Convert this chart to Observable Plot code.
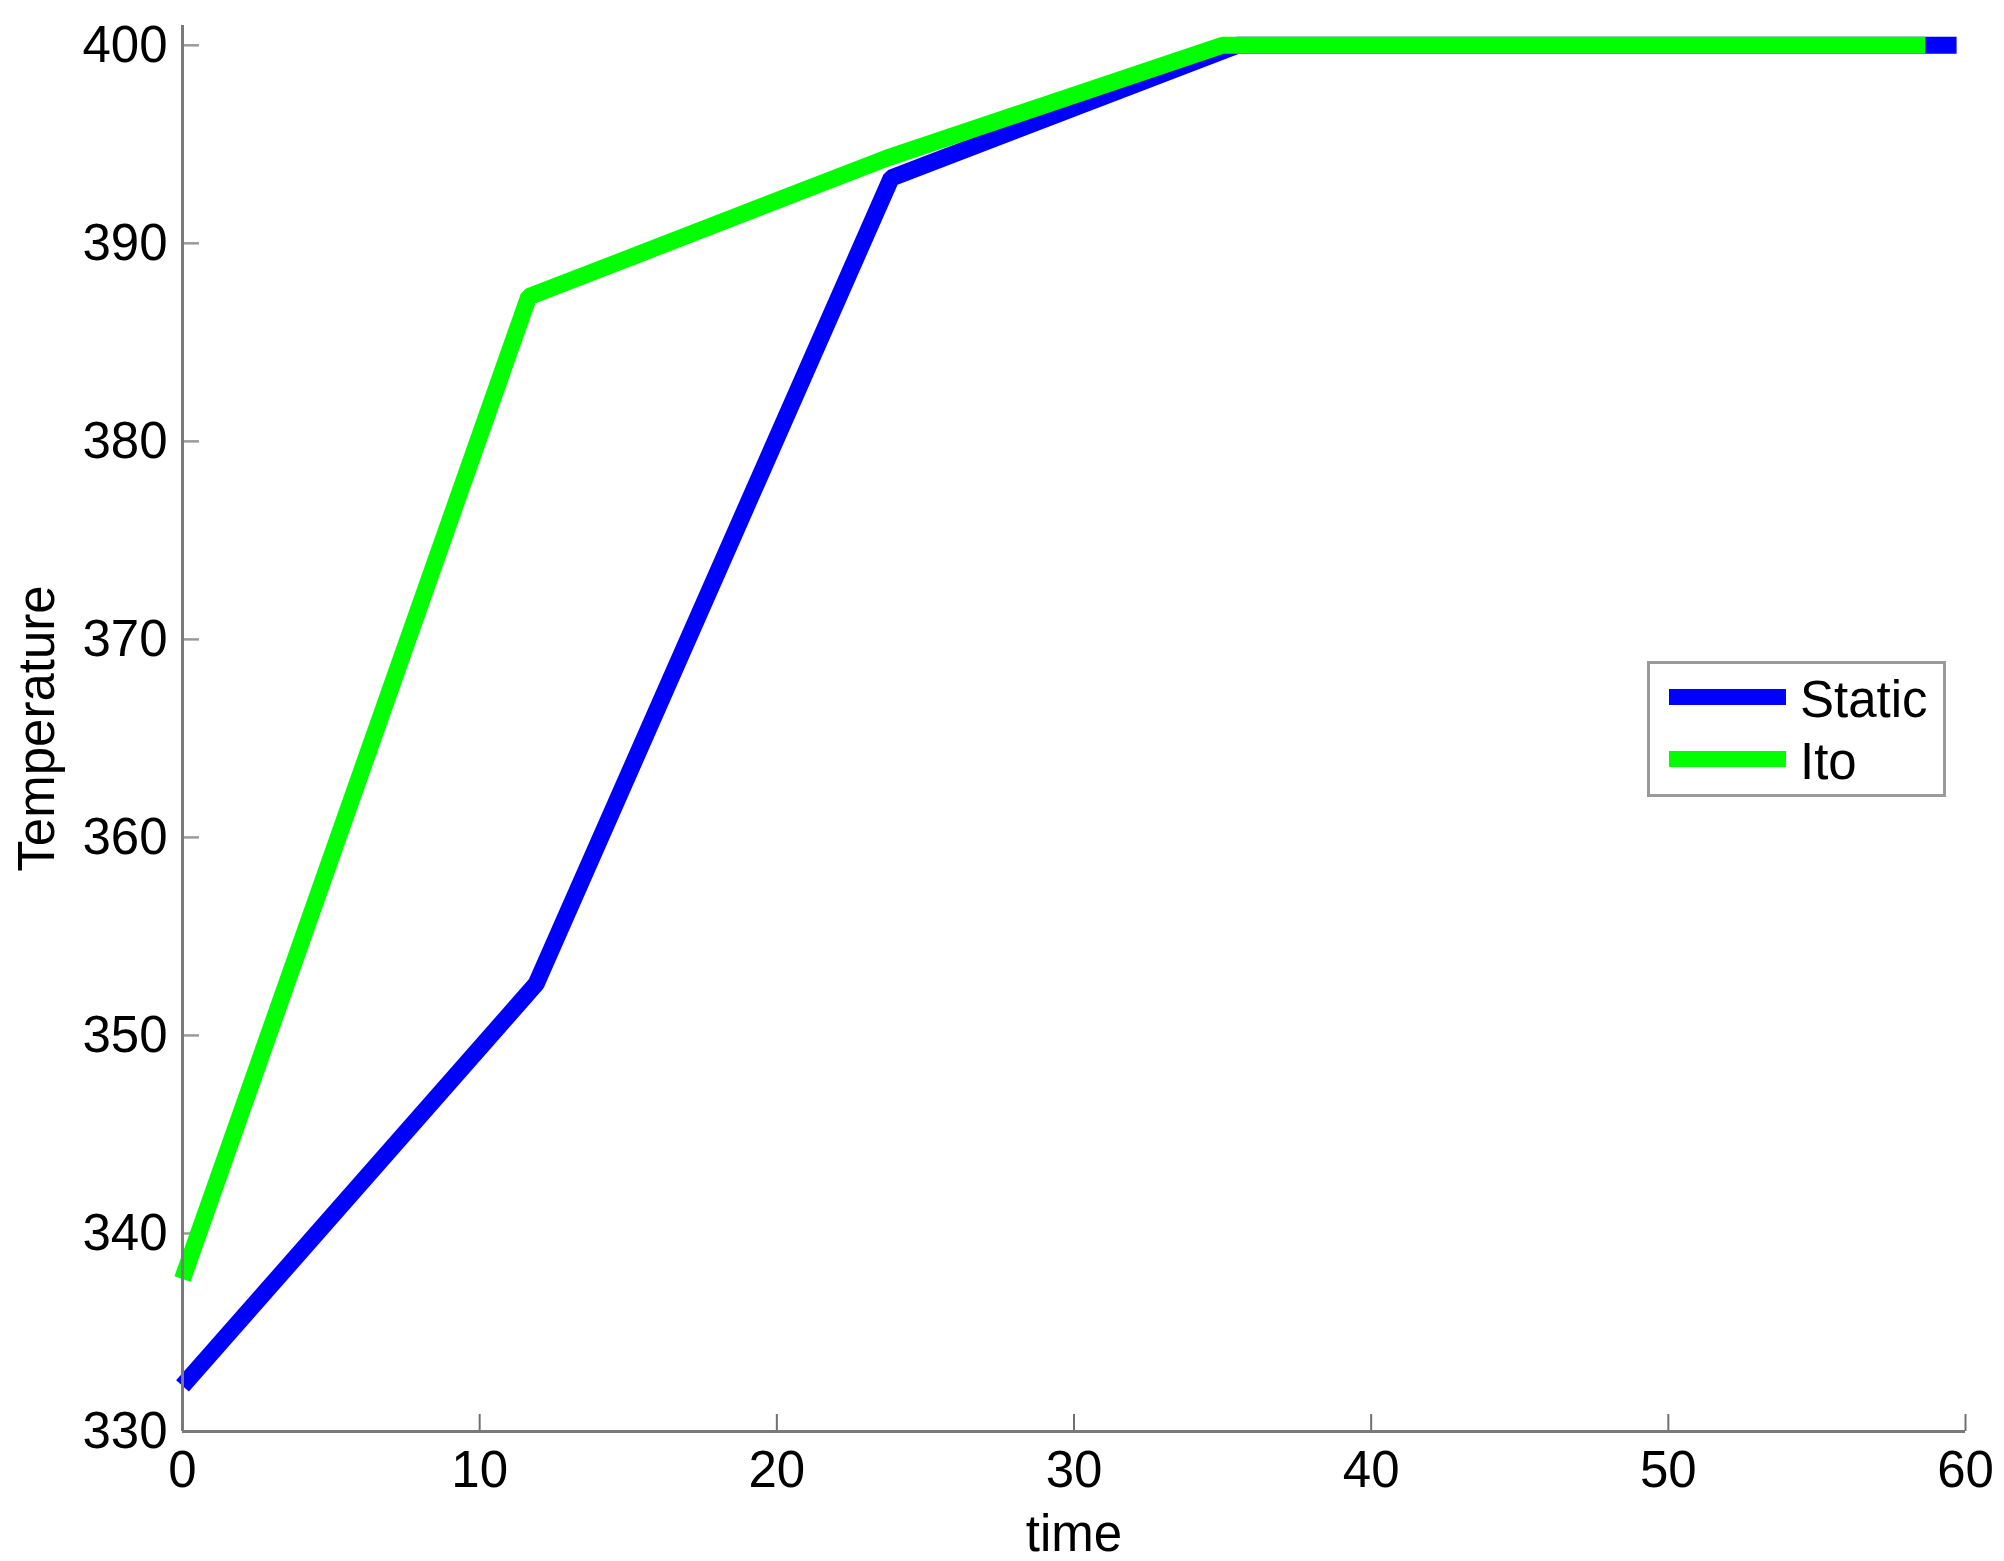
<!DOCTYPE html>
<html><head><meta charset="utf-8">
<script src="https://cdn.jsdelivr.net/npm/d3@7"></script>
<script src="https://cdn.jsdelivr.net/npm/@observablehq/plot@0.6"></script>
<style>
html,body{margin:0;padding:0;background:#fff;overflow:hidden}
#wrap{position:relative;width:2004px;height:1561px}
#legend{position:absolute;left:1647px;top:661px}
</style></head><body><div id="wrap"></div>
<script>
// Data
const staticTime = [0, 11.9, 23.85, 35.5, 59.7];
const staticTemp = [332.3, 352.6, 393.3, 400, 400];
const itoTime = [0, 11.65, 23.7, 35.0, 58.65];
const itoTemp = [337.7, 387.3, 394.3, 400, 400];
const seriesNames = ["Static", "Ito"];
const seriesColors = ["#0000ff", "#00ff00"];
const xTicks = [0, 10, 20, 30, 40, 50, 60];
const yTicks = [330, 340, 350, 360, 370, 380, 390, 400];

const data = [
  ...staticTime.map((t, i) => ({series: "Static", time: t, temp: staticTemp[i]})),
  ...itoTime.map((t, i) => ({series: "Ito", time: t, temp: itoTemp[i]}))
];

const FONT = "'Liberation Sans', Arial, sans-serif";

const chart = Plot.plot({
  width: 2004,
  height: 1561,
  marginLeft: 182,
  marginRight: 39,
  marginTop: 25,
  marginBottom: 130,
  style: {fontFamily: FONT, fontSize: "51px", color: "#000", background: "#fff", overflow: "visible"},
  x: {domain: [0, 60]},
  y: {domain: [330, 401]},
  color: {domain: seriesNames, range: seriesColors},
  marks: [
    Plot.axisX({ticks: xTicks, tickFormat: d => String(d), tickSize: -17, tickPadding: 36, stroke: "#707070", strokeWidth: 2, fill: "#000",
      label: "time", labelAnchor: "center", labelArrow: "none", labelOffset: 119}),
    Plot.axisY({ticks: yTicks, tickFormat: d => String(d), tickSize: -17, tickPadding: 32, stroke: "#9a9a9a", strokeWidth: 2.5, fill: "#000",
      label: "Temperature", labelAnchor: "center", labelArrow: "none", labelOffset: 165}),
    Plot.line(data, {x: "time", y: "temp", z: "series", stroke: "series", strokeWidth: 17, strokeLinecap: "butt", strokeLinejoin: "miter"}),
    Plot.ruleX([0], {stroke: "#7a7a7a", strokeWidth: 3}),
    Plot.ruleY([330], {stroke: "#7a7a7a", strokeWidth: 3})
  ]
});
document.getElementById("wrap").appendChild(chart);

// Legend (inside plot area, right side)
const lg = d3.select("#wrap").append("svg").attr("id", "legend")
  .attr("width", 300).attr("height", 137);
lg.append("rect").attr("x", 1.5).attr("y", 1.5).attr("width", 296).attr("height", 133)
  .attr("fill", "#fff").attr("stroke", "#9a9a9a").attr("stroke-width", 3);
seriesNames.forEach((name, i) => {
  const cy = 36 + i * 62;
  lg.append("line").attr("x1", 22).attr("x2", 139).attr("y1", cy).attr("y2", cy)
    .attr("stroke", seriesColors[i]).attr("stroke-width", 16);
  lg.append("text").attr("x", 153).attr("y", cy + 20)
    .attr("font-family", FONT).attr("font-size", 51).attr("fill", "#000").text(name);
});
</script>
</body></html>
